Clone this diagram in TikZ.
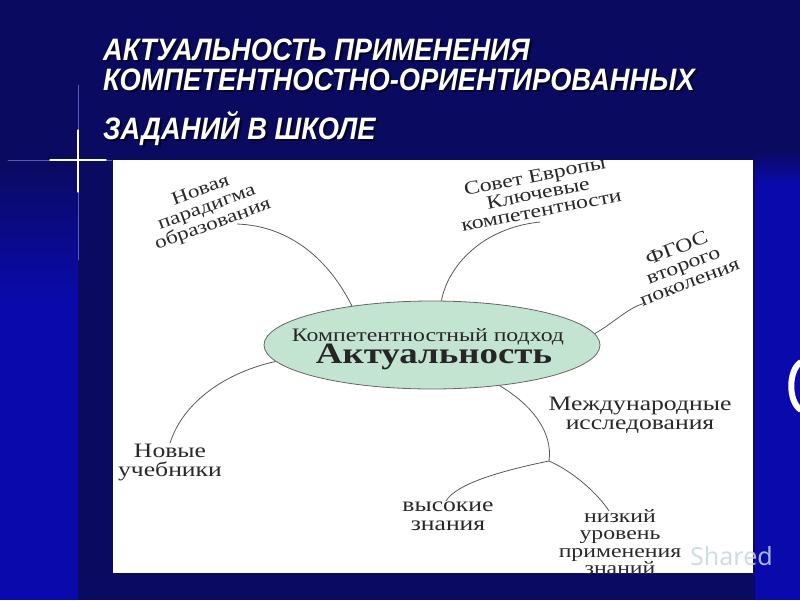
\documentclass[tikz,border=0pt]{standalone}
\usepackage{fontspec}
\usetikzlibrary{shapes.geometric}
\newfontfamily\ttlfont[FakeStretch=0.88]{Liberation Sans}
\newfontfamily\labfont[FakeStretch=1.25]{Liberation Serif}
\newfontfamily\wmfont{Noto Sans}
\definecolor{navy}{RGB}{10,10,96}
\definecolor{brightb}{RGB}{10,10,172}
\definecolor{mint}{RGB}{196,228,210}
\definecolor{ink}{RGB}{40,40,40}
\definecolor{wmc}{RGB}{200,214,224}
\tikzset{
  ttl/.style={anchor=base west, inner sep=0pt, text=white, font={\ttlfont\bfseries\itshape\fontsize{31}{31}\selectfont}},
  ttlshadow/.style={ttl, text=black, opacity=0.55},
  lbl/.style={text=ink, align=center, inner sep=0pt, font={\labfont\fontsize{20.5}{19}\selectfont}},
  lblsmall/.style={lbl, font={\labfont\fontsize{18.5}{18}\selectfont}},
  lblmid/.style={lbl, font={\labfont\fontsize{19}{17.5}\selectfont}},
  branch/.style={draw=black!65, line width=0.8pt},
  flare/.style={line cap=round},
}
\begin{document}
\begin{tikzpicture}[x=1pt,y=-1pt]
\useasboundingbox (0,0) rectangle (800,600);
% background
\fill[navy] (0,0) rectangle (800,600);
\shade[top color=navy, bottom color=brightb] (0,160) rectangle (78,300);
\fill[brightb] (0,300) rectangle (78,600);
\shade[top color=navy, bottom color=brightb] (755,150) rectangle (800,185);
\fill[brightb] (755,185) rectangle (800,600);
% star flare
\draw[flare, color=blue!45!white, line width=0.8pt, opacity=0.6] (78,85) -- (78,260);
\draw[flare, color=blue!45!white, line width=0.8pt, opacity=0.6] (8,160) -- (112,160);
\draw[flare, white, line width=1.1pt] (78,130) -- (78,192);
\draw[flare, white, line width=1.1pt] (50,160) -- (106,160);
% partial white letter on the right edge
\draw[white, line width=6pt] (801,362) .. controls (788,370) and (788,402) .. (801,410);
% title
\node[ttlshadow] at (105.5,62.5) {АКТУАЛЬНОСТЬ ПРИМЕНЕНИЯ};
\node[ttl] (title1) at (103,60) {АКТУАЛЬНОСТЬ ПРИМЕНЕНИЯ};
\node[ttlshadow] at (105.5,92.5) {КОМПЕТЕНТНОСТНО-ОРИЕНТИРОВАННЫХ};
\node[ttl] (title2) at (103,90) {КОМПЕТЕНТНОСТНО-ОРИЕНТИРОВАННЫХ};
\node[ttlshadow] at (105.5,141.5) {ЗАДАНИЙ В ШКОЛЕ};
\node[ttl] (title3) at (103,139) {ЗАДАНИЙ В ШКОЛЕ};
% panel
\fill[white] (113,160) rectangle (753,573);
\begin{scope}
\clip (113,160) rectangle (753,573);
% central ellipse
\node[ellipse, draw=black!60, line width=0.8pt, fill=mint, minimum width=336pt, minimum height=88pt, inner sep=0pt] (ell) at (432,345) {};
\node[anchor=base, text=ink, inner sep=0pt, font={\labfont\fontsize{19}{19}\selectfont}] (sub) at (428,341) {Компетентностный подход};
\node[anchor=base, text=black!85, inner sep=0pt, font={\labfont\bfseries\fontsize{29.5}{30}\selectfont}] (main) at (434,363) {Актуальность};
% labels
\node[lblsmall, rotate=20] (par) at (207,208) {Новая\\парадигма\\образования};
\node[lblmid, rotate=11] (eur) at (538,193) {Совет Европы\\Ключевые\\компетентности};
\node[lblmid, rotate=21, font={\labfont\fontsize{19}{18}\selectfont}] (fgos) at (683,265) {ФГОС\\второго\\поколения};
\node[lbl] (books) at (170,462) {Новые\\учебники};
\node[lbl] (intl) at (640,415) {Международные\\исследования};
\node[lbl] (high) at (448,516) {высокие\\знания};
\node[lblmid] (low) at (620,542) {низкий\\уровень\\применения\\знаний};
% connector end points
\coordinate (c1) at (237,224);
\coordinate (c2) at (540,222);
\coordinate (c3) at (646,303);
\coordinate (c4) at (170,443);
\coordinate (fork) at (549,461);
\coordinate (c6) at (446,501);
\coordinate (c7) at (609,511);
% connectors
\draw[branch] (c1) .. controls (292,226) and (330,262) .. (ell.154);
\draw[branch] (c2) .. controls (482,228) and (448,266) .. (ell.78);
\draw[branch] (ell.4) .. controls (615,322) and (630,306) .. (c3);
\draw[branch] (ell.186) .. controls (228,372) and (184,400) .. (c4);
\draw[branch] (ell.329) .. controls (532,405) and (553,432) .. (fork);
\draw[branch] (fork) .. controls (500,471) and (456,484) .. (c6);
\draw[branch] (fork) .. controls (574,472) and (598,494) .. (c7);
\end{scope}
% watermark
\node[anchor=base west, text=wmc, opacity=0.85, inner sep=0pt, font={\wmfont\fontsize{25}{25}\selectfont}] (wm) at (690,565) {Shared};
\end{tikzpicture}
\end{document}
